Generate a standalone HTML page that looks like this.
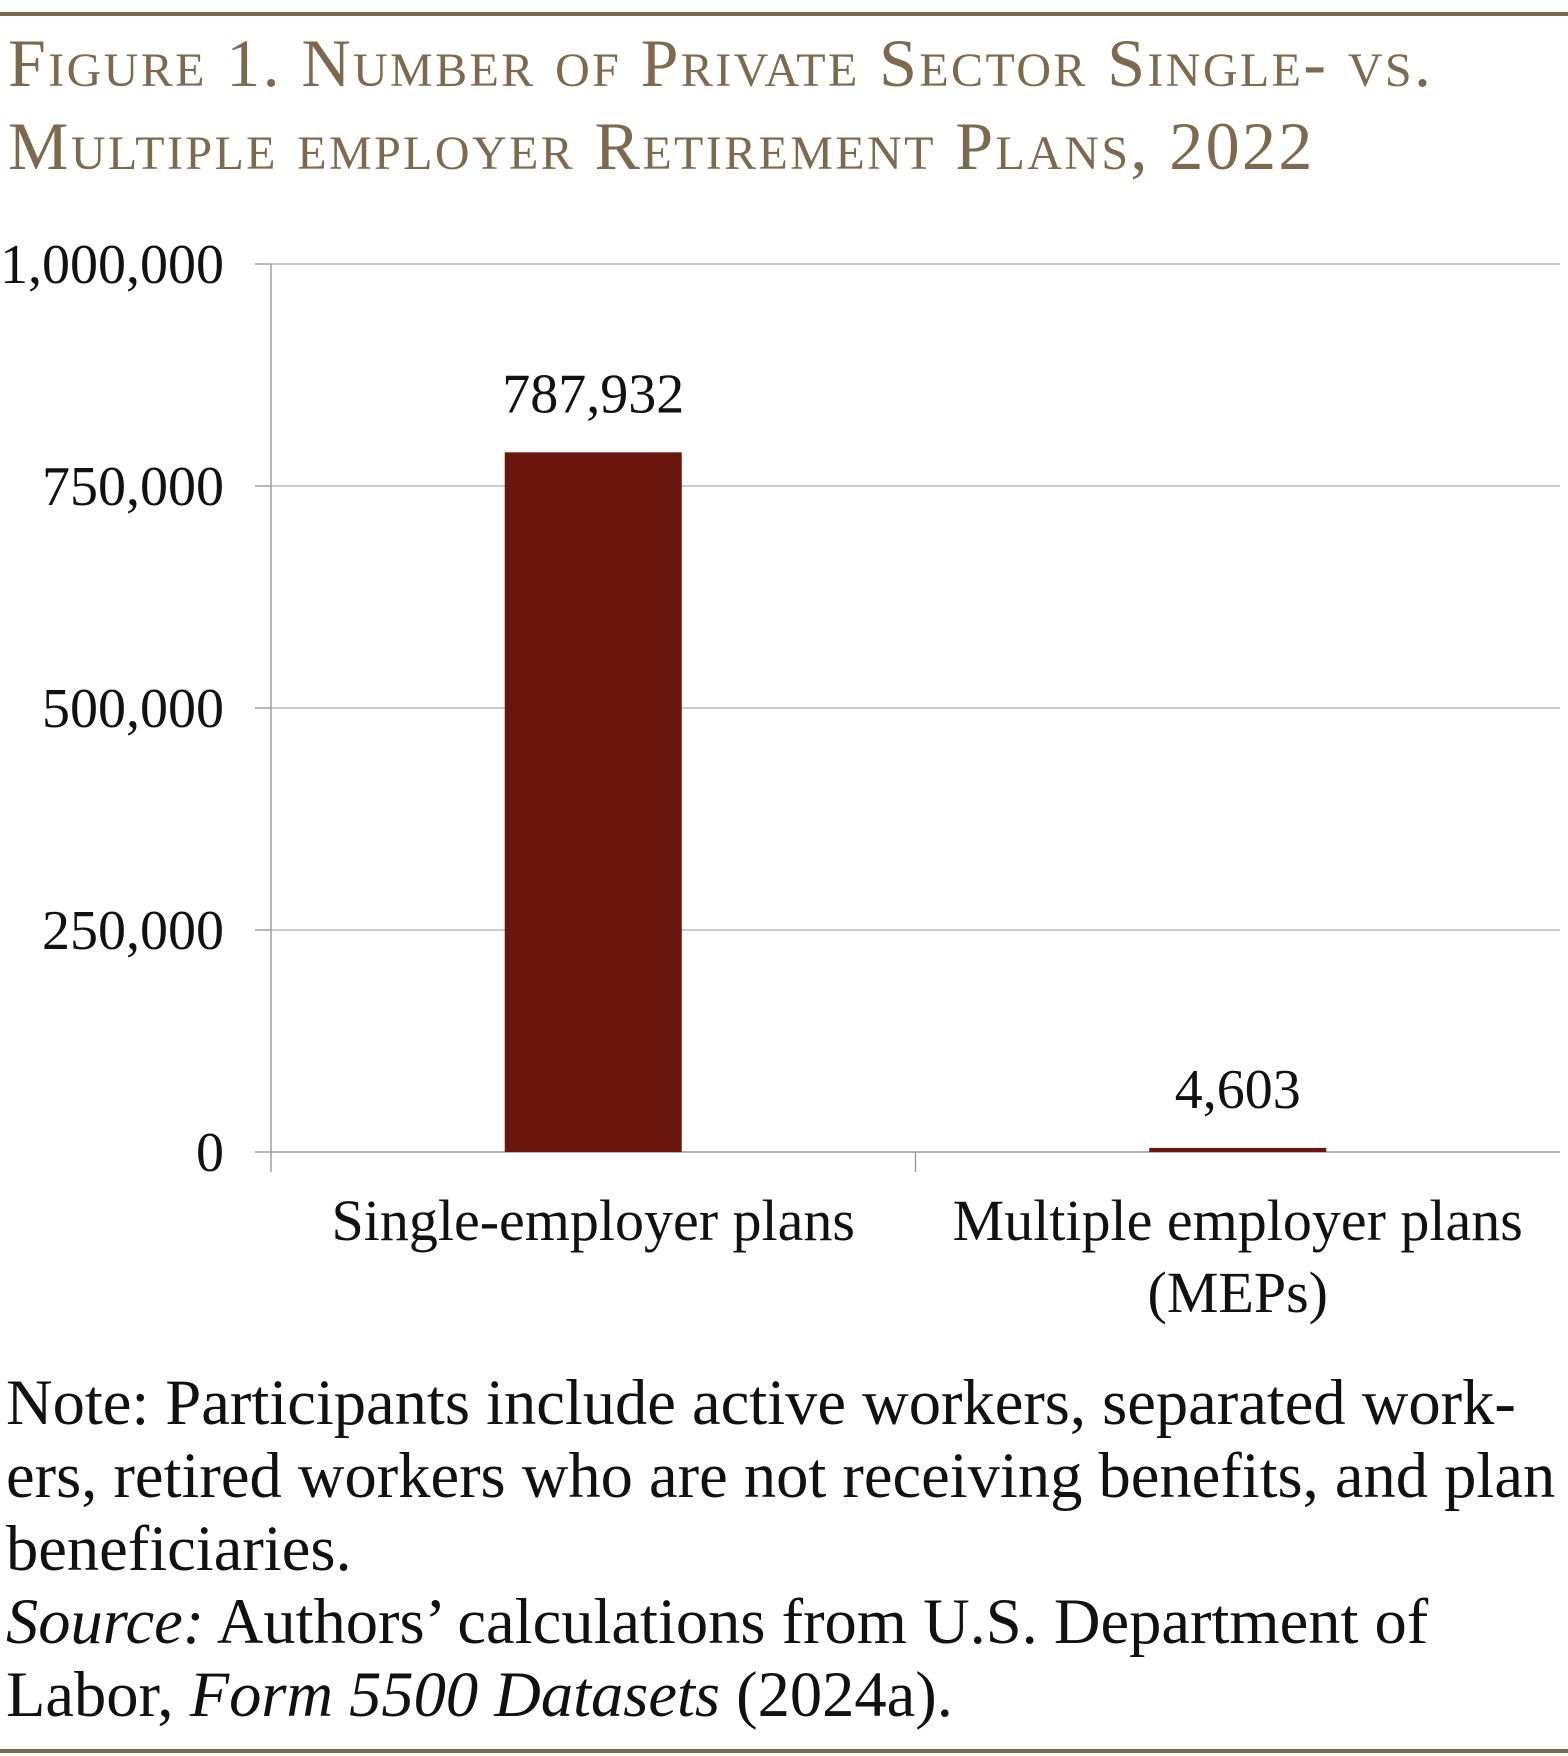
<!DOCTYPE html>
<html><head><meta charset="utf-8"><style>
body{margin:0;width:1568px;height:1756px;background:#fff;overflow:hidden;font-family:"Liberation Serif",serif;}
.rule{position:absolute;left:0;width:1568px;height:4px;background:#7d6a4e;}
.title{position:absolute;left:8px;top:22px;color:#7d6a4e;font-size:68px;font-variant:small-caps;line-height:83px;letter-spacing:2.4px;white-space:nowrap;}
.note{position:absolute;left:6px;top:1366px;font-size:64.5px;line-height:73px;color:#111;white-space:nowrap;}
svg text{font-family:"Liberation Serif",serif;}
</style></head><body>
<div class="rule" style="top:12px"></div>
<div class="title">Figure 1. Number of Private Sector Single- vs.<br>Multiple employer Retirement Plans, 2022</div>
<svg id="chart" width="1568" height="1360" style="position:absolute;left:0;top:0"></svg>
<div class="note">Note: Participants include active workers, separated work-<br>ers, retired workers who are not receiving benefits, and plan<br>beneficiaries.<br><i>Source:</i> Authors’ calculations from U.S. Department of<br>Labor, <i>Form 5500 Datasets</i> (2024a).</div>
<div class="rule" style="top:1749px"></div>
<script>
const categories=["Single-employer plans","Multiple employer plans|(MEPs)"];
const values=[787932,4603];
const valueLabels=["787,932","4,603"];
const ticks=[0,250000,500000,750000,1000000];
const tickLabels=["0","250,000","500,000","750,000","1,000,000"];
const NS="http://www.w3.org/2000/svg",svg=document.getElementById("chart");
const x0=271,x1=1560,y0=1152,yTop=264,max=1000000;
const y=v=>y0-(y0-yTop)*v/max;
const bw=(x1-x0)/categories.length;
function mk(t,a,txt){const e=document.createElementNS(NS,t);for(const k in a)e.setAttribute(k,a[k]);if(txt!=null)e.textContent=txt;svg.appendChild(e);return e;}
ticks.forEach((t,i)=>{
 const g=mk("line",{x1:x0,x2:x1,y1:y(t),y2:y(t),stroke:i==0?"#999":"#bbb","stroke-width":1.4});
 
 
 mk("line",{x1:255,x2:x0,y1:y(t),y2:y(t),stroke:"#999","stroke-width":1.4});
 const l=mk("text",{x:224,y:y(t)+19,"text-anchor":"end","font-size":56,fill:"#111"},tickLabels[i]);
 
 
});
mk("line",{x1:x0,x2:x0,y1:yTop,y2:1172,stroke:"#999","stroke-width":1.4});
for(let i=1;i<categories.length;i++)mk("line",{x1:x0+bw*i,x2:x0+bw*i,y1:y0,y2:1172,stroke:"#999","stroke-width":1.4});
categories.forEach((c,i)=>{
 const cx=x0+bw*(i+0.5),w=177;
 const top=y(values[i]);
 const r=mk("rect",{x:cx-w/2,y:top,width:w,height:Math.max(y0-top,1.5),fill:"#6b160d"});
 
 
 const v=mk("text",{x:cx,y:top-40,"text-anchor":"middle","font-size":56,fill:"#111"},valueLabels[i]);
 
 
 c.split("|").forEach((ln,j)=>{
  const t=mk("text",{x:cx,y:1240+j*72,"text-anchor":"middle","font-size":58,fill:"#111"},ln);
  
  
 });
});
</script>
</body></html>
